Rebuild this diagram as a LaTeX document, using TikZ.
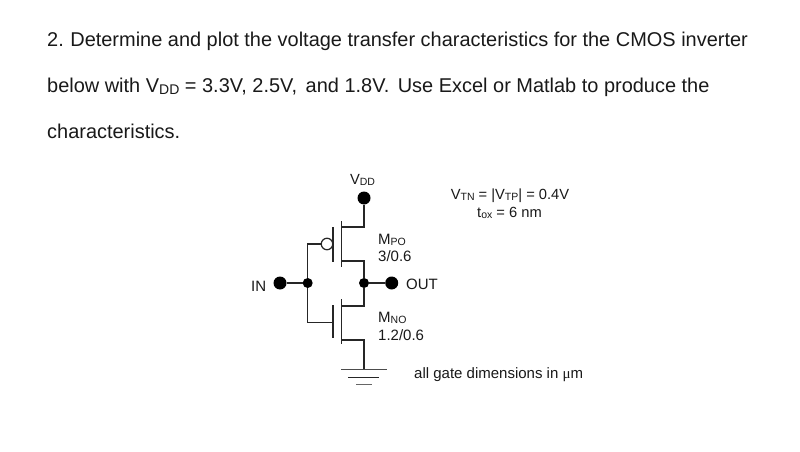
\documentclass[tikz,border=0pt]{standalone}
\usepackage{fontspec}
\setmainfont{Liberation Sans}
\newfontfamily\muserif{Liberation Serif}
\newcommand{\sbs}[1]{\raisebox{-1.3pt}{\fontsize{10.5}{11}\selectfont #1}}
\newcommand{\sbp}[1]{\raisebox{-1.5pt}{\fontsize{14}{15}\selectfont #1}}
\tikzset{
  wire/.style={line width=1.3pt,color=black!85},
  bigdot/.style={circle,fill=black,inner sep=0pt,minimum size=13pt},
  smalldot/.style={circle,fill=black,inner sep=0pt,minimum size=10pt},
  bubble/.style={circle,draw=black!85,line width=1.2pt,fill=white,inner sep=0pt,minimum size=11.5pt},
  para/.style={anchor=base west,inner sep=0pt,font=\fontsize{19.95}{22}\selectfont,text=black!90},
  lab/.style={anchor=base west,inner sep=0pt,font=\fontsize{15}{16}\selectfont,text=black!90},
  labc/.style={anchor=base,inner sep=0pt,font=\fontsize{14.7}{16}\selectfont,text=black!90}
}
\begin{document}
\frenchspacing
\begin{tikzpicture}[x=1pt,y=-1pt]
\useasboundingbox[fill=white] (0,0) rectangle (800,452);
\node[para] (l1) at (47,46.5) {2.\hspace{1pt} Determine and plot the voltage transfer characteristics for the CMOS inverter};
\node[para] (l2) at (47,92.5) {below with V\sbp{DD} = 3.3V, 2.5V,\hspace{3pt} and 1.8V.\hspace{3pt} Use Excel or Matlab to produce the};
\node[para] (l3) at (47,138.5) {characteristics.};

\node[bigdot] (vdd) at (364,198) {};
\node[smalldot] (jout) at (364,283) {};
\node[bigdot] (out) at (391.7,283) {};
\node[bigdot] (in) at (280,283) {};
\node[smalldot] (jin) at (307.7,283) {};
\node[bubble] (bub) at (327,244) {};

% PMOS
\coordinate (pdt) at (364,227);
\coordinate (pdc) at (341.7,227);
\coordinate (psc) at (341.7,261);
\coordinate (psb) at (364,261);
\coordinate (pgt) at (333,227);
\coordinate (pgb) at (333,262);
\coordinate (pct) at (341.7,221);
\coordinate (pcb) at (341.7,267);
\coordinate (pgw) at (307.7,244);
\draw[wire] (vdd) -- (pdt) -- (pdc);
\draw[wire] (psc) -- (psb) -- (jout);
\draw[wire] (pct) -- (pcb);
\draw[wire] (pgt) -- (pgb);
\draw[wire] (bub.west) -- (pgw) -- (jin);
% NMOS
\coordinate (ndt) at (364,306);
\coordinate (ndc) at (341.7,306);
\coordinate (nsc) at (341.7,340);
\coordinate (nsb) at (364,340);
\coordinate (ngt) at (333,305);
\coordinate (ngb) at (333,338);
\coordinate (nct) at (341.7,299);
\coordinate (ncb) at (341.7,344);
\coordinate (ngw) at (307.7,322.7);
\coordinate (ngi) at (333,322.7);
\coordinate (gnd) at (364,369.5);
\draw[wire] (jout) -- (ndt) -- (ndc);
\draw[wire] (nsc) -- (nsb) -- (gnd);
\draw[wire] (nct) -- (ncb);
\draw[wire] (ngt) -- (ngb);
\draw[wire] (jin) -- (ngw) -- (ngi);
\draw[wire] (in) -- (jin);
\draw[wire] (jout) -- (out);
% ground
\coordinate (g1a) at (341,369.5); \coordinate (g1b) at (386.7,369.5);
\coordinate (g2a) at (348,377.5); \coordinate (g2b) at (379,377.5);
\coordinate (g3a) at (356,384.5); \coordinate (g3b) at (372,384.5);
\draw[wire,color=black!70] (g1a) -- (g1b);
\draw[wire] (g2a) -- (g2b);
\draw[wire,color=black!60] (g3a) -- (g3b);

\node[labc] (tvdd) at (362.5,184.5) {V\sbs{DD}};
\node[lab] (tin) at (251,291) {IN};
\node[lab] (tout) at (406,289.5) {OUT};
\node[lab] (mp) at (378,244) {M\sbs{PO}};
\node[lab] (mps) at (378,261.5) {3/0.6};
\node[lab] (mn) at (378,322.5) {M\sbs{NO}};
\node[lab] (mns) at (378,340) {1.2/0.6};
\node[labc] (vt) at (510,199.5) {V\sbs{TN} = |V\sbs{TP}| = 0.4V};
\node[labc] (tox) at (509.5,217) {t\sbs{ox} = 6 nm};
\node[lab] (note) at (414,378) {all gate dimensions in {\muserif μ}m};
\end{tikzpicture}
\end{document}
